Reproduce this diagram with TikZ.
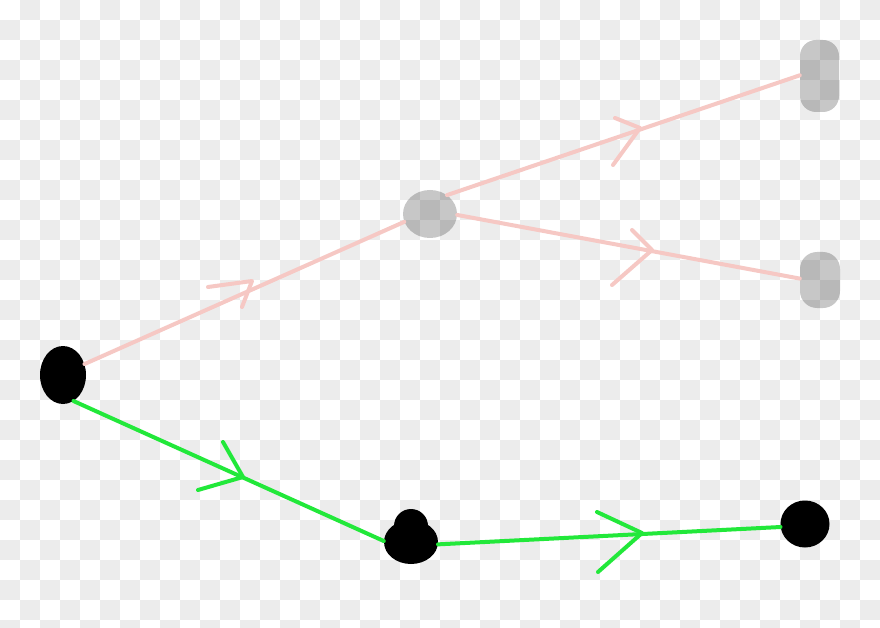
\documentclass[tikz,border=0pt]{standalone}
\usetikzlibrary{shapes.geometric}
\definecolor{chk}{RGB}{236,236,236}
\definecolor{pinkl}{RGB}{246,200,196}
\definecolor{greenl}{RGB}{34,232,58}
\tikzset{
  pinkline/.style={draw=pinkl, line width=4pt, line cap=round, line join=round},
  greenline/.style={draw=greenl, line width=4pt, line cap=round, line join=round},
  blackdot/.style={ellipse, fill=black, inner sep=0pt, draw=none},
  graydot/.style={fill=black, fill opacity=0.22, inner sep=0pt, draw=none},
}
\begin{document}
\begin{tikzpicture}[x=1pt, y=-1pt]
\useasboundingbox (0,0) rectangle (880,628);
% checkerboard background
\fill[white] (0,0) rectangle (880,628);
\begin{scope}
\clip (0,0) rectangle (880,628);
\foreach \j in {0,2,...,30} { \foreach \i in {1,3,...,43} { \fill[chk] (20*\i,20*\j) rectangle ++(20,20); } }
\foreach \j in {1,3,...,31} { \foreach \i in {0,2,...,42} { \fill[chk] (20*\i,20*\j) rectangle ++(20,20); } }
\end{scope}
% nodes
\node[blackdot, minimum width=46pt, minimum height=58pt] (A) at (63,375) {};
\node[graydot, ellipse, minimum width=54pt, minimum height=48pt] (B) at (430,214) {};
\node[graydot, rectangle, rounded corners=16pt, minimum width=39pt, minimum height=72pt] (C) at (819.5,76) {};
\node[graydot, rectangle, rounded corners=17pt, minimum width=40pt, minimum height=56pt] (D) at (820,280) {};
\node[blackdot, minimum width=54pt, minimum height=44pt] (E) at (411,542) {};
\fill[black] (411,526) circle (17pt);
\node[blackdot, minimum width=49pt, minimum height=47pt] (F) at (805,524) {};
% connectors
\draw[pinkline] (A.27) -- (B.197);
\draw[pinkline] (B.48) -- (C.178);
\draw[pinkline] (B.-2) -- (D.176);
\draw[greenline] (A.-68) -- (E.178);
\draw[greenline] (E.-5) -- (F.187);
% chevron marks
\coordinate (t1) at (252,281);
\coordinate (t2) at (640,128);
\coordinate (t3) at (652,250);
\coordinate (t4) at (243,477);
\coordinate (t5) at (642,533);
\draw[pinkline] (t1) ++(-44,6) -- (t1) -- ++(-10,26);
\draw[pinkline] (t2) ++(-25,-10) -- (t2) -- ++(-27,37);
\draw[pinkline] (t3) ++(-20,-20) -- (t3) -- ++(-40,35);
\draw[greenline] (t4) ++(-20,-35) -- (t4) -- ++(-45,13);
\draw[greenline] (t5) ++(-45,-21) -- (t5) -- ++(-44,39);
\end{tikzpicture}
\end{document}
